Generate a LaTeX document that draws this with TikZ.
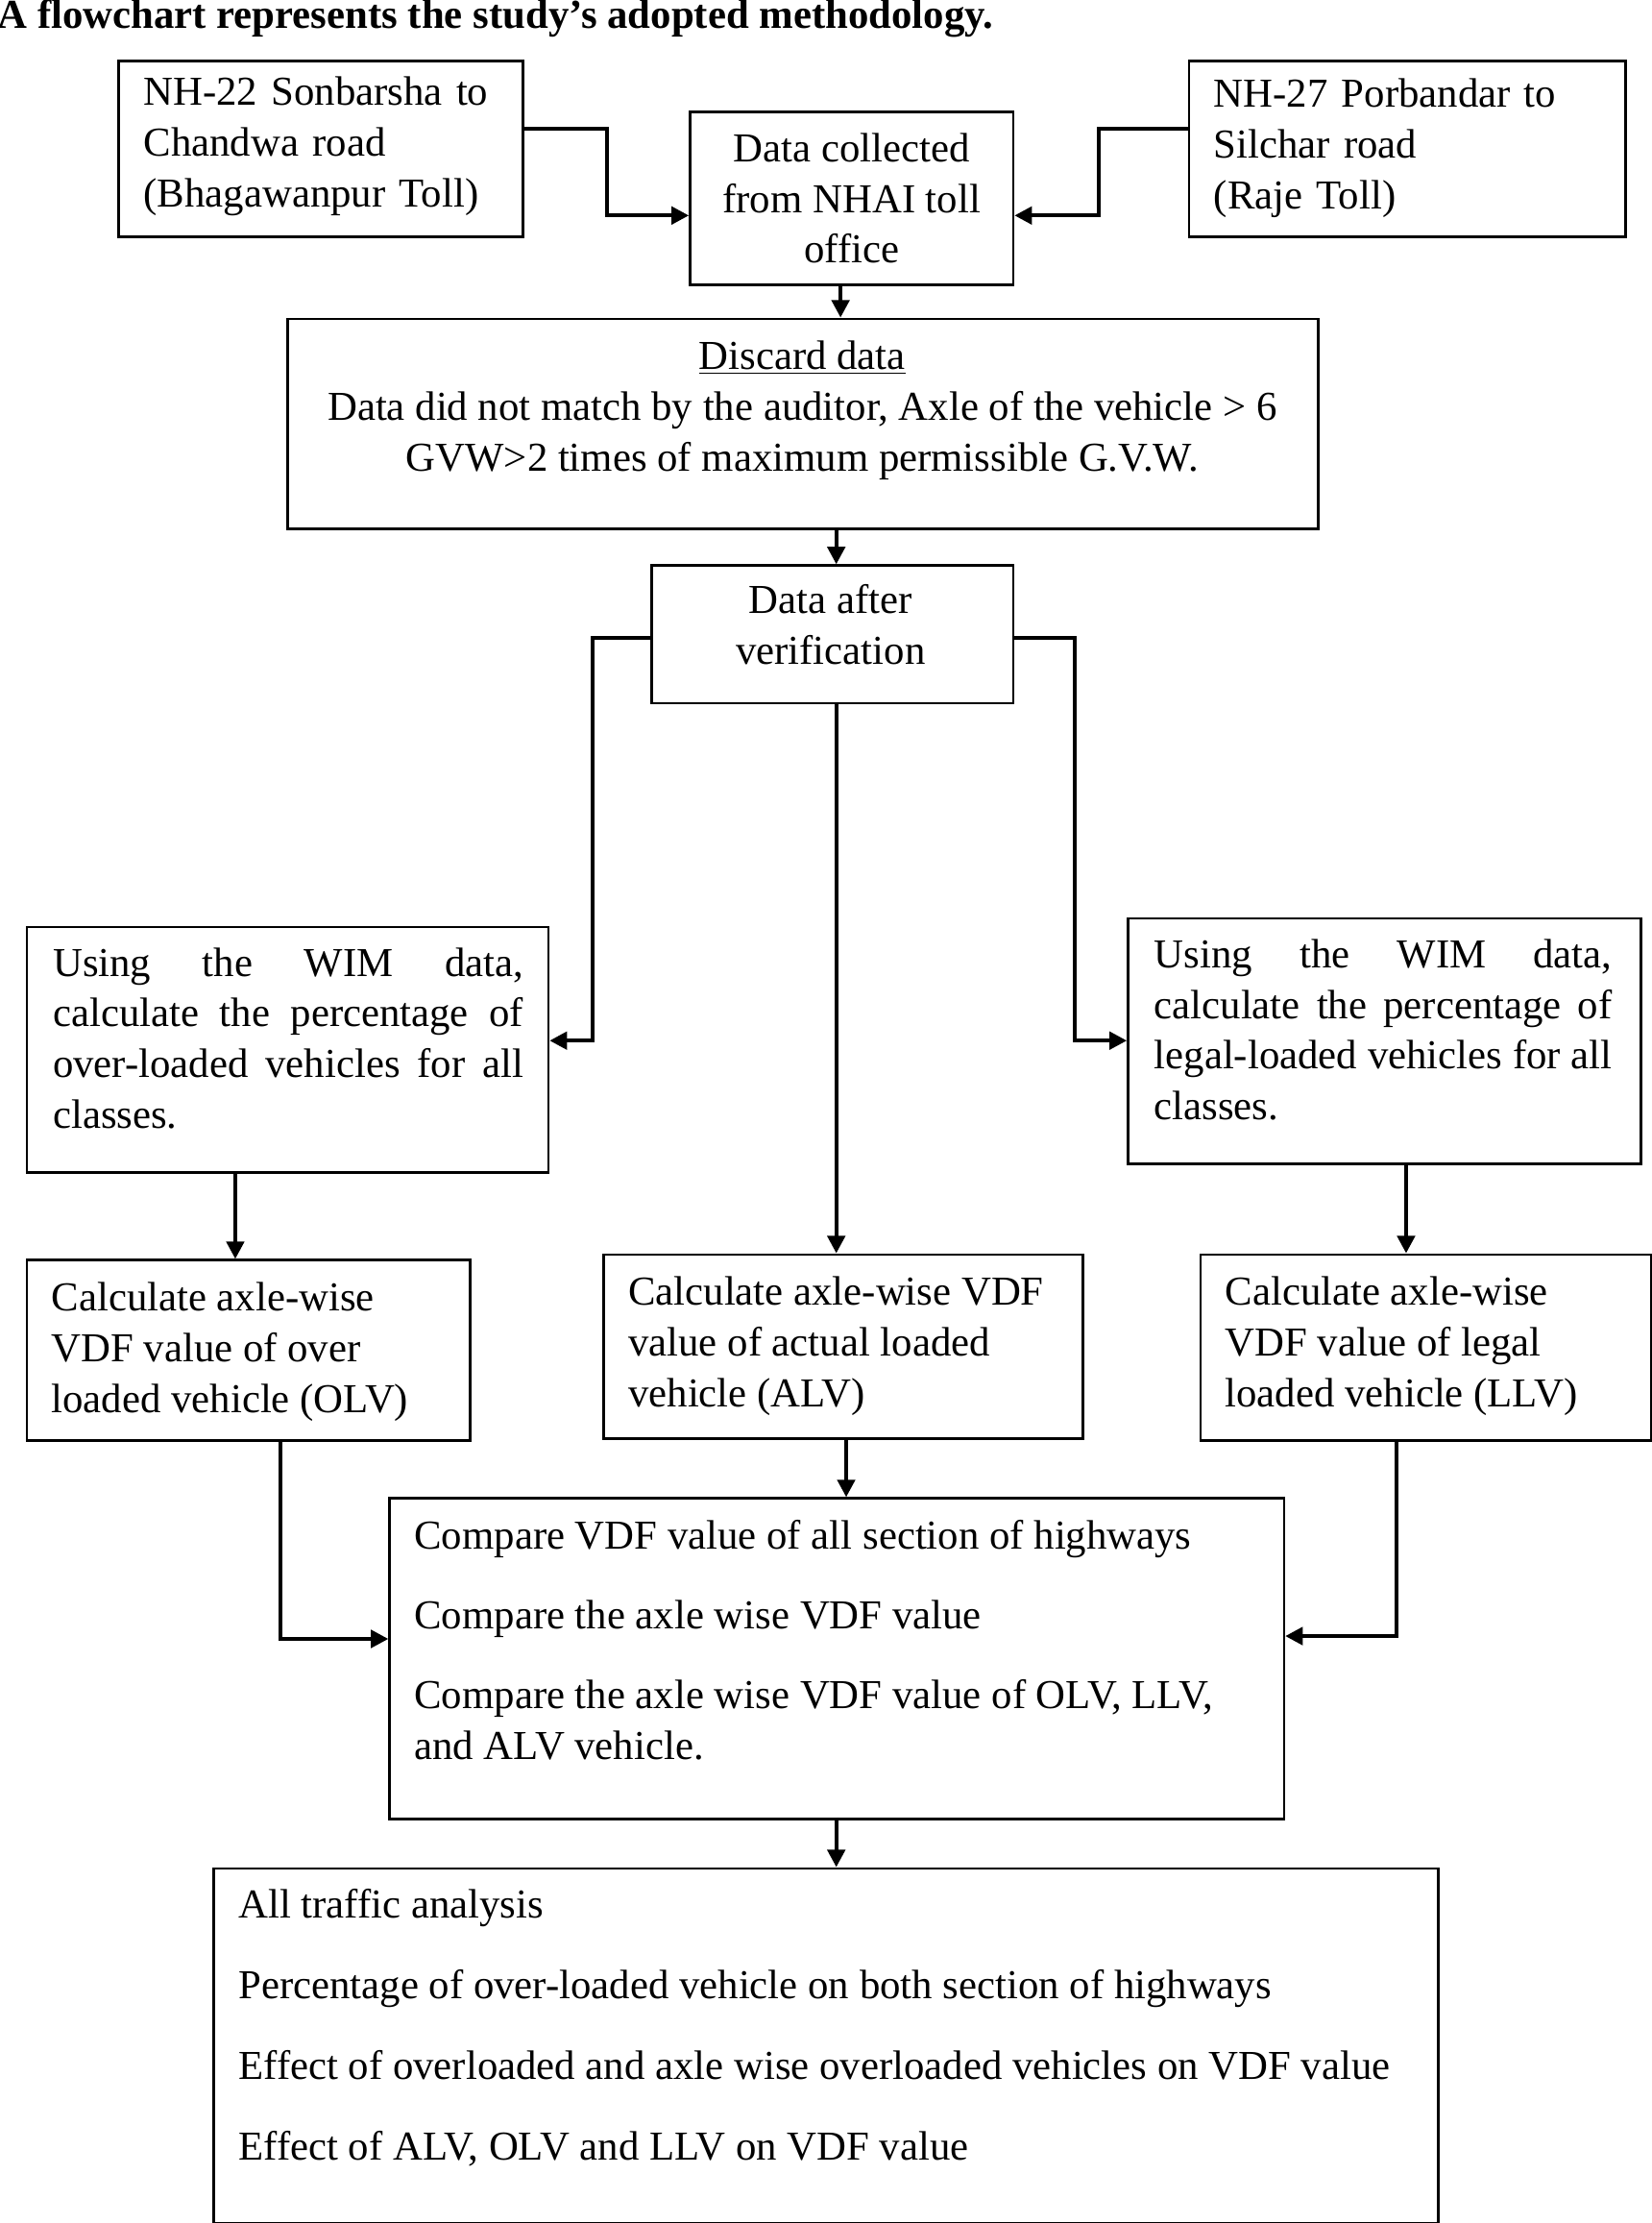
\documentclass[tikz,border=0pt]{standalone}
\usepackage{fontspec}
\setmainfont{Liberation Serif}
\usetikzlibrary{calc,arrows.meta}
\begin{document}
\begin{tikzpicture}[x=0.02cm,y=-0.02cm,
  every node/.style={font=\fontsize{16.5}{20.4}\selectfont},
  box/.style={draw,line width=1pt,inner sep=0pt,anchor=north west},
  txt/.style={inner sep=0pt,anchor=north west,align=left},
  arr/.style={line width=1.6pt,-{Triangle[length=7pt,width=7pt]}}]
\useasboundingbox (0,0) rectangle (1165,1568);
\node[inner sep=0pt,anchor=base west,font=\bfseries\fontsize{16.5}{20}\selectfont] (title) at (-2,20) {A flowchart represents the study's adopted methodology.};
% boxes
\node[box,minimum width=285*0.02cm,minimum height=124*0.02cm] (A) at (83,42) {};
\node[txt,text width=265*0.02cm] (At) at (101,54) {NH-22 Sonbarsha to\\Chandwa road\\(Bhagawanpur Toll)};
\node[box,minimum width=228*0.02cm,minimum height=122*0.02cm,align=center] (B) at (486,78) {Data collected\\from NHAI toll\\office};
\node[box,minimum width=308*0.02cm,minimum height=124*0.02cm] (C) at (838,42) {};
\node[txt,text width=285*0.02cm] (Ct) at (856,55) {NH-27 Porbandar to\\Silchar road\\(Raje Toll)};
\node[box,minimum width=727*0.02cm,minimum height=148*0.02cm] (D) at (202,224) {};
\node[inner sep=0pt,align=center,anchor=north] (Dt) at (566,240) {\underline{Discard data}\\Data did not match by the auditor, Axle of the vehicle \textgreater{} 6\\GVW\textgreater2 times of maximum permissible G.V.W.};
\node[box,minimum width=255*0.02cm,minimum height=97*0.02cm] (E) at (459,398) {};
\node[inner sep=0pt,align=center,anchor=north] (Et) at (586,412) {Data after\\verification};
\node[box,minimum width=368*0.02cm,minimum height=173*0.02cm] (F) at (18,653) {};
\node[txt,text width=332*0.02cm] (Ft) at (37,668) {Using\hfill the\hfill WIM\hfill data,\\calculate\hfill the\hfill percentage\hfill of\\over-loaded\hfill vehicles\hfill for\hfill all\\classes.};
\node[box,minimum width=362*0.02cm,minimum height=173*0.02cm] (G) at (795,647) {};
\node[txt,text width=323*0.02cm] (Gt) at (814,662) {Using\hfill the\hfill WIM\hfill data,\\calculate\hfill the\hfill percentage\hfill of\\legal-loaded\hfill vehicles\hfill for\hfill all\\classes.};
\node[box,minimum width=313*0.02cm,minimum height=127*0.02cm] (H) at (18,888) {};
\node[txt] (Ht) at (36,904) {Calculate axle-wise\\VDF value of over\\loaded vehicle (OLV)};
\node[box,minimum width=338*0.02cm,minimum height=130*0.02cm] (I) at (425,884) {};
\node[txt] (It) at (443,900) {Calculate axle-wise VDF\\value of actual loaded\\vehicle (ALV)};
\node[box,minimum width=318*0.02cm,minimum height=131*0.02cm] (J) at (846,884) {};
\node[txt] (Jt) at (864,900) {Calculate axle-wise\\VDF value of legal\\loaded vehicle (LLV)};
\node[box,minimum width=631*0.02cm,minimum height=226*0.02cm] (K) at (274,1056) {};
\node[txt] (Kt) at (292,1072) {Compare VDF value of all section of highways\\[11.5pt]Compare the axle wise VDF value\\[11.5pt]Compare the axle wise VDF value of OLV, LLV,\\and ALV vehicle.};
\node[box,minimum width=864*0.02cm,minimum height=250*0.02cm] (L) at (150,1317) {};
\node[txt] (Lt) at (168,1332) {All traffic analysis\\[12pt]Percentage of over-loaded vehicle on both section of highways\\[12pt]Effect of overloaded and axle wise overloaded vehicles on VDF value\\[12pt]Effect of ALV, OLV and LLV on VDF value};
% arrows
\coordinate (a1) at (368,91); \coordinate (a2) at (428,152);
\draw[arr] (a1) -| (a2) -- (B.west |- a2);
\coordinate (c1) at (838,91); \coordinate (c2) at (775,152);
\draw[arr] (c1) -| (c2) -- (B.east |- c2);
\coordinate (b1) at (593,200);
\draw[arr] (b1) -- (b1 |- D.north);
\coordinate (d1) at (590,372);
\draw[arr] (d1) -- (d1 |- E.north);
\coordinate (e1) at (459,450); \coordinate (e2) at (418,734);
\draw[arr] (e1) -| (e2) -- (F.east |- e2);
\coordinate (e3) at (714,450); \coordinate (e4) at (758,734);
\draw[arr] (e3) -| (e4) -- (G.west |- e4);
\coordinate (e5) at (590,495);
\draw[arr] (e5) -- (e5 |- I.north);
\coordinate (f1) at (166,826);
\draw[arr] (f1) -- (f1 |- H.north);
\coordinate (g1) at (992,820);
\draw[arr] (g1) -- (g1 |- J.north);
\coordinate (i1) at (597,1014);
\draw[arr] (i1) -- (i1 |- K.north);
\coordinate (h1) at (198,1015); \coordinate (h2) at (198,1156);
\draw[arr] (h1) -- (h2) -- (K.west |- h2);
\coordinate (j1) at (985,1015); \coordinate (j2) at (985,1154);
\draw[arr] (j1) -- (j2) -- (K.east |- j2);
\coordinate (k1) at (590,1282);
\draw[arr] (k1) -- (k1 |- L.north);
\end{tikzpicture}
\end{document}
